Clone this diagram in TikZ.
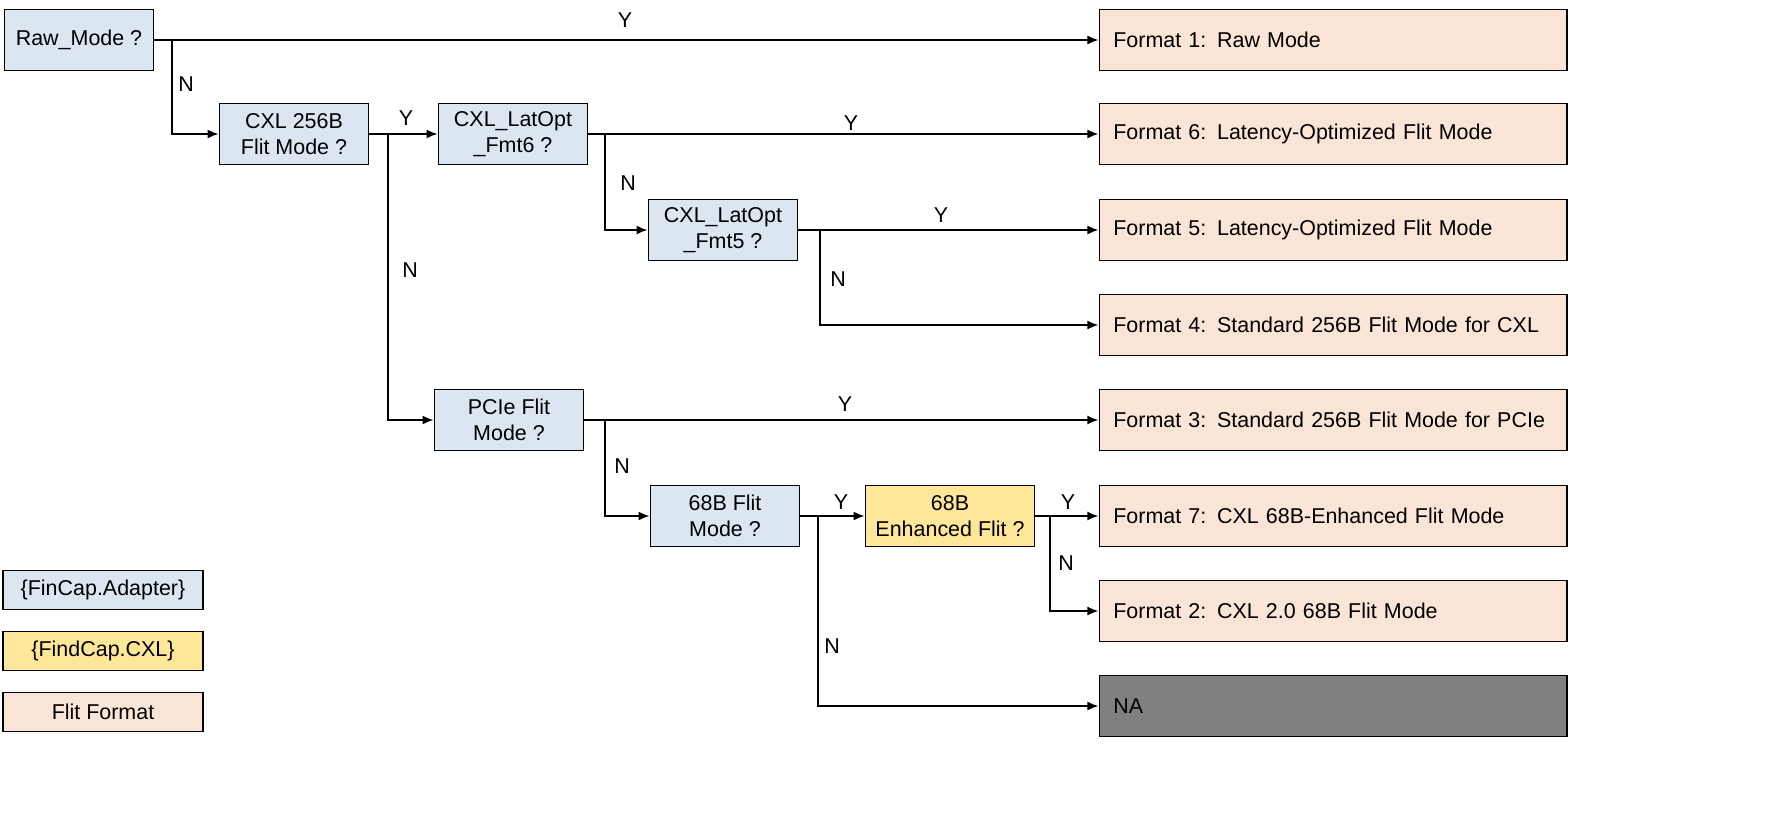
\documentclass[tikz,border=0pt]{standalone}
\usepackage{fontspec}
\setmainfont{Liberation Sans}
\usetikzlibrary{arrows.meta}
\definecolor{adapt}{RGB}{220,230,240}
\definecolor{cxl}{RGB}{255,230,153}
\definecolor{fmt}{RGB}{251,229,214}
\definecolor{na}{RGB}{128,128,128}
\tikzset{box/.style={draw, line width=0.5pt, minimum width=1.49cm, minimum height=0.61cm, inner sep=0pt, align=center, font=\fontsize{6.1}{7.3}\selectfont},
         ask/.style={box, fill=adapt},
         fbox/.style={box, fill=fmt, minimum width=4.67cm, text width=4.39cm, align=left},
         leg/.style={box, minimum width=2cm, minimum height=0.39cm},
         arr/.style={-{Latex[length=1.1mm,width=0.9mm]}, line width=0.5pt},
         lbl/.style={font=\fontsize{6.1}{7.3}\selectfont}}
\begin{document}
\begin{tikzpicture}[x=0.01cm,y=-0.01cm]
\useasboundingbox (0,0) rectangle (1767,833);
% decision boxes
\node[ask] (raw) at (79,40) {Raw\_Mode ?};
\node[ask] (c256) at (294,134) {CXL 256B\\Flit Mode ?};
\node[ask] (lo6) at (513,134) {CXL\_LatOpt\\\_Fmt6 ?};
\node[ask] (lo5) at (723,230) {CXL\_LatOpt\\\_Fmt5 ?};
\node[ask] (pcie) at (509,420) {PCIe Flit\\Mode ?};
\node[ask] (f68) at (725,516) {68B Flit\\Mode ?};
\node[box, fill=cxl, minimum width=1.69cm] (enh) at (950,516) {68B\\Enhanced Flit ?};
% formats
\node[fbox] (fm1) at (1333,40) {Format 1: Raw Mode};
\node[fbox] (fm6) at (1333,134) {Format 6: Latency-Optimized Flit Mode};
\node[fbox] (fm5) at (1333,230) {Format 5: Latency-Optimized Flit Mode};
\node[fbox] (fm4) at (1333,325) {Format 4: Standard 256B Flit Mode for CXL};
\node[fbox] (fm3) at (1333,420) {Format 3: Standard 256B Flit Mode for PCIe};
\node[fbox] (fm7) at (1333,516) {Format 7: CXL 68B-Enhanced Flit Mode};
\node[fbox] (fm2) at (1333,611) {Format 2: CXL 2.0 68B Flit Mode};
\node[fbox, fill=na] (nafmt) at (1333,706) {NA};
% legend
\node[leg, fill=adapt] (lga) at (103,590) {\{FinCap.Adapter\}};
\node[leg, fill=cxl] (lgc) at (103,651) {\{FindCap.CXL\}};
\node[leg, fill=fmt] (lgf) at (103,712) {Flit Format};
% branch points
\coordinate (b1) at (172,40);
\coordinate (b2) at (388,134);
\coordinate (b3) at (605,134);
\coordinate (b4) at (820,230);
\coordinate (b5) at (605,420);
\coordinate (b6) at (818,516);
\coordinate (b7) at (1050,516);
% yes
\draw[arr] (raw) -- (fm1);
\draw[arr] (c256) -- (lo6);
\draw[arr] (lo6) -- (fm6);
\draw[arr] (lo5) -- (fm5);
\draw[arr] (pcie) -- (fm3);
\draw[arr] (f68) -- (enh);
\draw[arr] (enh) -- (fm7);
% no
\draw[arr] (b1) |- (c256);
\draw[arr] (b2) |- (pcie);
\draw[arr] (b3) |- (lo5);
\draw[arr] (b4) |- (fm4);
\draw[arr] (b5) |- (f68);
\draw[arr] (b6) |- (nafmt);
\draw[arr] (b7) |- (fm2);
% labels
\node[lbl] at (625,20) {Y};
\node[lbl] at (406,118) {Y};
\node[lbl] at (851,123) {Y};
\node[lbl] at (941,215) {Y};
\node[lbl] at (845,404) {Y};
\node[lbl] at (841,502) {Y};
\node[lbl] at (1068,502) {Y};
\node[lbl] at (186,84) {N};
\node[lbl] at (410,270) {N};
\node[lbl] at (628,183) {N};
\node[lbl] at (838,279) {N};
\node[lbl] at (622,466) {N};
\node[lbl] at (832,646) {N};
\node[lbl] at (1066,563) {N};
\end{tikzpicture}
\end{document}
